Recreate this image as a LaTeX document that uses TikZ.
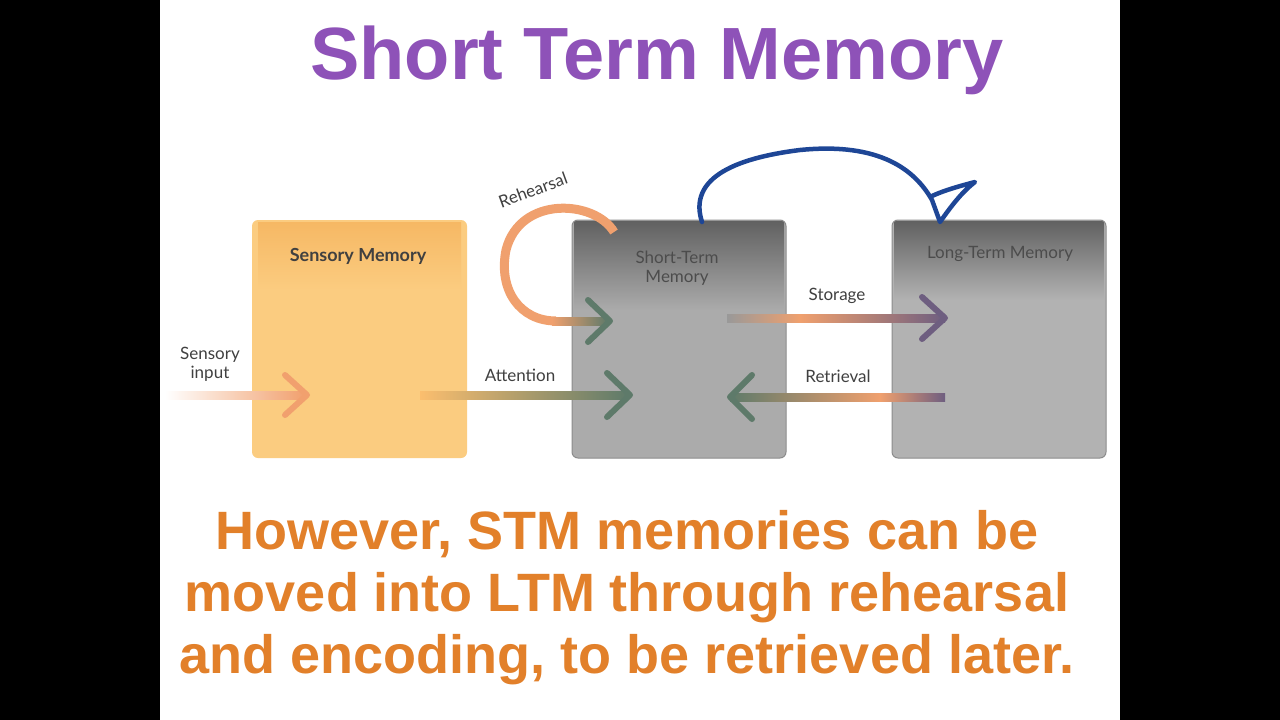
\documentclass[tikz,border=0pt]{standalone}
\usepackage{fontspec}
\setmainfont{Liberation Sans}
\newfontfamily\lab{Lato}
\definecolor{ttl}{RGB}{142,82,184}
\definecolor{sorange}{RGB}{251,204,128}
\definecolor{sorangeD}{RGB}{246,184,100}
\definecolor{arrO}{RGB}{240,160,110}
\definecolor{arrG}{RGB}{94,122,106}
\definecolor{arrP}{RGB}{110,94,128}
\definecolor{inO}{RGB}{241,160,110}
\definecolor{attO}{RGB}{251,190,110}
\definecolor{penB}{RGB}{30,70,150}
\definecolor{bodyO}{RGB}{226,128,42}
\begin{document}
\begin{tikzpicture}[x=1pt,y=-1pt,
  boxs/.style={rounded corners=6pt},
  lbl/.style={font=\lab\fontsize{17}{19}\selectfont, text=black!75, align=center},
  head/.style={line width=6pt, line cap=round, line join=round}]
\fill[black] (0,0) rectangle (1280,720);
\fill[white] (160,0) rectangle (1120,720);
\useasboundingbox (0,0) rectangle (1280,720);
\node[font=\bfseries\fontsize{74}{80}\selectfont, text=ttl] (title) at (657,60) {Short Term Memory};
% boxes
\fill[boxs,sorange] (252,220) rectangle (467,458);
\shade[top color=sorangeD, bottom color=sorange] (258,222) rectangle (461,290);
\fill[boxs,black!33] (572,220) rectangle (786,458);
\shade[top color=black!62, bottom color=black!33] (574,221) rectangle (784,310);
\fill[boxs,black!30] (892,220) rectangle (1106,458);
\shade[top color=black!62, bottom color=black!30] (894,221) rectangle (1104,300);
\draw[boxs,black!45,line width=1pt] (572,220) rectangle (786,458);
\draw[boxs,black!45,line width=1pt] (892,220) rectangle (1106,458);
\node[lbl,font=\lab\bfseries\fontsize{18}{20}\selectfont] (sm) at (358,256) {Sensory Memory};
\node[lbl,text=black!70] (stm) at (677,268) {Short-Term\\Memory};
\node[lbl,text=black!70] (ltm) at (1000,254) {Long-Term Memory};
% sensory input
\shade[left color=white, right color=inO] (165,391) rectangle (305,399);
\draw[head,inO] (285,375) -- (307,395) -- (285,415);
\node[lbl] (si) at (210,364) {Sensory\\input};
% attention
\shade[left color=attO, right color=arrG] (420,391) rectangle (628,399);
\draw[head,arrG] (607,373) -- (630,395) -- (607,417);
\node[lbl] (att) at (520,375) {Attention};
% rehearsal
\draw[line width=9pt,arrO] (614,232) .. controls (595,200) and (520,195) .. (506,250)
  .. controls (498,290) and (520,321) .. (556,321);
\shade[left color=arrO, right color=arrG] (552,317) rectangle (608,325);
\draw[head,arrG] (588,300) -- (610,321) -- (588,342);
\node[lbl,rotate=20] (reh) at (533,190) {Rehearsal};
% storage
\shade[left color=black!40, right color=arrO] (727,314) rectangle (800,322);
\shade[left color=arrO, right color=arrP] (800,314) rectangle (945,322);
\draw[head,arrP] (922,297) -- (945,318) -- (922,339);
\node[lbl] (sto) at (837,296) {Storage};
% retrieval
\shade[left color=arrG, right color=arrO] (730,393) rectangle (880,401);
\shade[left color=arrO, right color=arrP] (880,393) rectangle (945,401);
\draw[head,arrG] (752,375) -- (730,397) -- (752,419);
\node[lbl] (ret) at (838,376) {Retrieval};
% blue hand-drawn
\coordinate (b1) at (702,222);
\coordinate (b2) at (940,222);
\draw[line width=4.5pt,penB,line cap=round,line join=round]
  (b1) .. controls (690,185) and (720,160) .. (800,150)
  .. controls (880,142) and (915,170) .. (932,200)
  -- (b2) .. controls (952,205) and (962,192) .. (975,182)
  .. controls (960,186) and (945,190) .. (932,196);
% bottom text
\node[font=\bfseries\fontsize{54}{62}\selectfont, text=bodyO, align=center] (body) at (627,598) {However, STM memories can be\\moved into LTM through rehearsal\\and encoding, to be retrieved later.};
\end{tikzpicture}
\end{document}
